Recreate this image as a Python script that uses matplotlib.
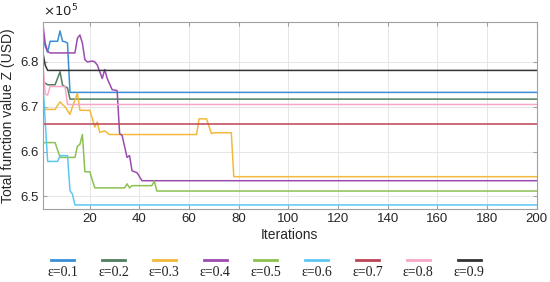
import matplotlib
matplotlib.use('Agg')
import matplotlib.pyplot as plt
from matplotlib.lines import Line2D

# objective value in units of 1e5 USD, given as (iteration, value) breakpoints
eps_labels = ['ε=0.1', 'ε=0.2', 'ε=0.3', 'ε=0.4', 'ε=0.5', 'ε=0.6', 'ε=0.7', 'ε=0.8', 'ε=0.9']
colors = ['#3B8ED6', '#4F7F5F', '#F2B93B', '#9A4CB0', '#8CC152', '#5CC8F2', '#BC4456', '#F7A8C8', '#333333']

it_01 = [1, 2, 3, 4, 7, 8, 9, 10, 11, 12, 200]
z_01 = [6.857, 6.835, 6.822, 6.846, 6.846, 6.869, 6.846, 6.845, 6.842, 6.732, 6.732]

it_02 = [1, 3, 6, 8, 9, 10, 11, 12, 200]
z_02 = [6.756, 6.749, 6.749, 6.778, 6.748, 6.745, 6.742, 6.717, 6.717]

it_03 = [1, 2, 6, 8, 9, 10, 12, 13, 15, 16, 20, 22, 23, 24, 26, 28, 63, 64, 67, 69, 70, 77, 78, 200]
z_03 = [6.702, 6.694, 6.694, 6.711, 6.705, 6.700, 6.683, 6.700, 6.730, 6.692, 6.692, 6.655, 6.666,
        6.643, 6.646, 6.638, 6.638, 6.673, 6.673, 6.640, 6.642, 6.642, 6.544, 6.544]

it_04 = [1, 2, 3, 4, 14, 15, 16, 17, 18, 19, 21, 22, 23, 25, 26, 27, 29, 31, 32, 33, 35, 36, 37, 39, 41, 200]
z_04 = [6.889, 6.842, 6.823, 6.820, 6.820, 6.853, 6.860, 6.842, 6.805, 6.800, 6.802, 6.800, 6.793,
        6.763, 6.783, 6.763, 6.738, 6.736, 6.640, 6.636, 6.587, 6.591, 6.557, 6.553, 6.535, 6.535]

it_05 = [1, 6, 8, 14, 15, 16, 17, 18, 20, 21, 22, 34, 35, 36, 37, 45, 46, 47, 200]
z_05 = [6.620, 6.620, 6.587, 6.587, 6.612, 6.616, 6.638, 6.555, 6.555, 6.536, 6.519, 6.519, 6.528,
        6.519, 6.524, 6.524, 6.534, 6.512, 6.512]

it_06 = [1, 3, 7, 8, 11, 12, 13, 14, 200]
z_06 = [6.760, 6.578, 6.578, 6.591, 6.591, 6.513, 6.505, 6.481, 6.481]

it_07 = [1, 200]
z_07 = [6.661, 6.661]

it_08 = [1, 2, 3, 4, 10, 11, 200]
z_08 = [6.805, 6.728, 6.726, 6.745, 6.745, 6.705, 6.705]

it_09 = [1, 2, 3, 200]
z_09 = [6.823, 6.793, 6.781, 6.781]

series = [(it_01, z_01), (it_02, z_02), (it_03, z_03), (it_04, z_04), (it_05, z_05),
          (it_06, z_06), (it_07, z_07), (it_08, z_08), (it_09, z_09)]

plt.rcParams['font.family'] = ['Liberation Sans', 'DejaVu Sans']

fig = plt.figure(figsize=(5.5, 2.82), dpi=100)
ax = fig.add_axes([0.0776, 0.259, 0.898, 0.663])

for (x, y), c in zip(series, colors):
    ax.plot(x, y, color=c, lw=1.1)

ax.set_xlim(1, 200)
ax.set_ylim(6.472, 6.889)
ax.set_xticks(range(20, 201, 20))
ax.set_yticks([6.5, 6.6, 6.7, 6.8])
ax.set_yticklabels(['6.5', '6.6', '6.7', '6.8'])
ax.grid(True, color='#e6e6e6', lw=0.7)
ax.set_axisbelow(True)
for s in ax.spines.values():
    s.set_color('#a0a0a0')
    s.set_linewidth(0.8)
ax.tick_params(direction='in', length=3, color='#a0a0a0', labelcolor='#262626',
               labelsize=9.5, top=True, right=True, pad=3)
ax.set_xlabel('Iterations', fontsize=10, color='#262626', labelpad=2)
ax.set_ylabel('Total function value Z (USD)', fontsize=10, color='#262626', labelpad=4)
ax.text(0.0, 1.015, r'$\times10^5$', transform=ax.transAxes, fontsize=9.5,
        color='#262626', ha='left', va='bottom')

# legend below: line on top, label underneath
x0, dx = 62.7 / 550, 50.8 / 550
for i, (lab, c) in enumerate(zip(eps_labels, colors)):
    xc = x0 + i * dx
    fig.add_artist(Line2D([xc - 0.021, xc + 0.021], [1 - 260 / 282] * 2, color=c, lw=2,
                          transform=fig.transFigure))
    fig.text(xc, 1 - 273 / 282, lab, ha='center', va='center', fontsize=10,
             family=['Liberation Serif', 'DejaVu Serif'], color='#222222')

fig.savefig('out.png', dpi=100)
